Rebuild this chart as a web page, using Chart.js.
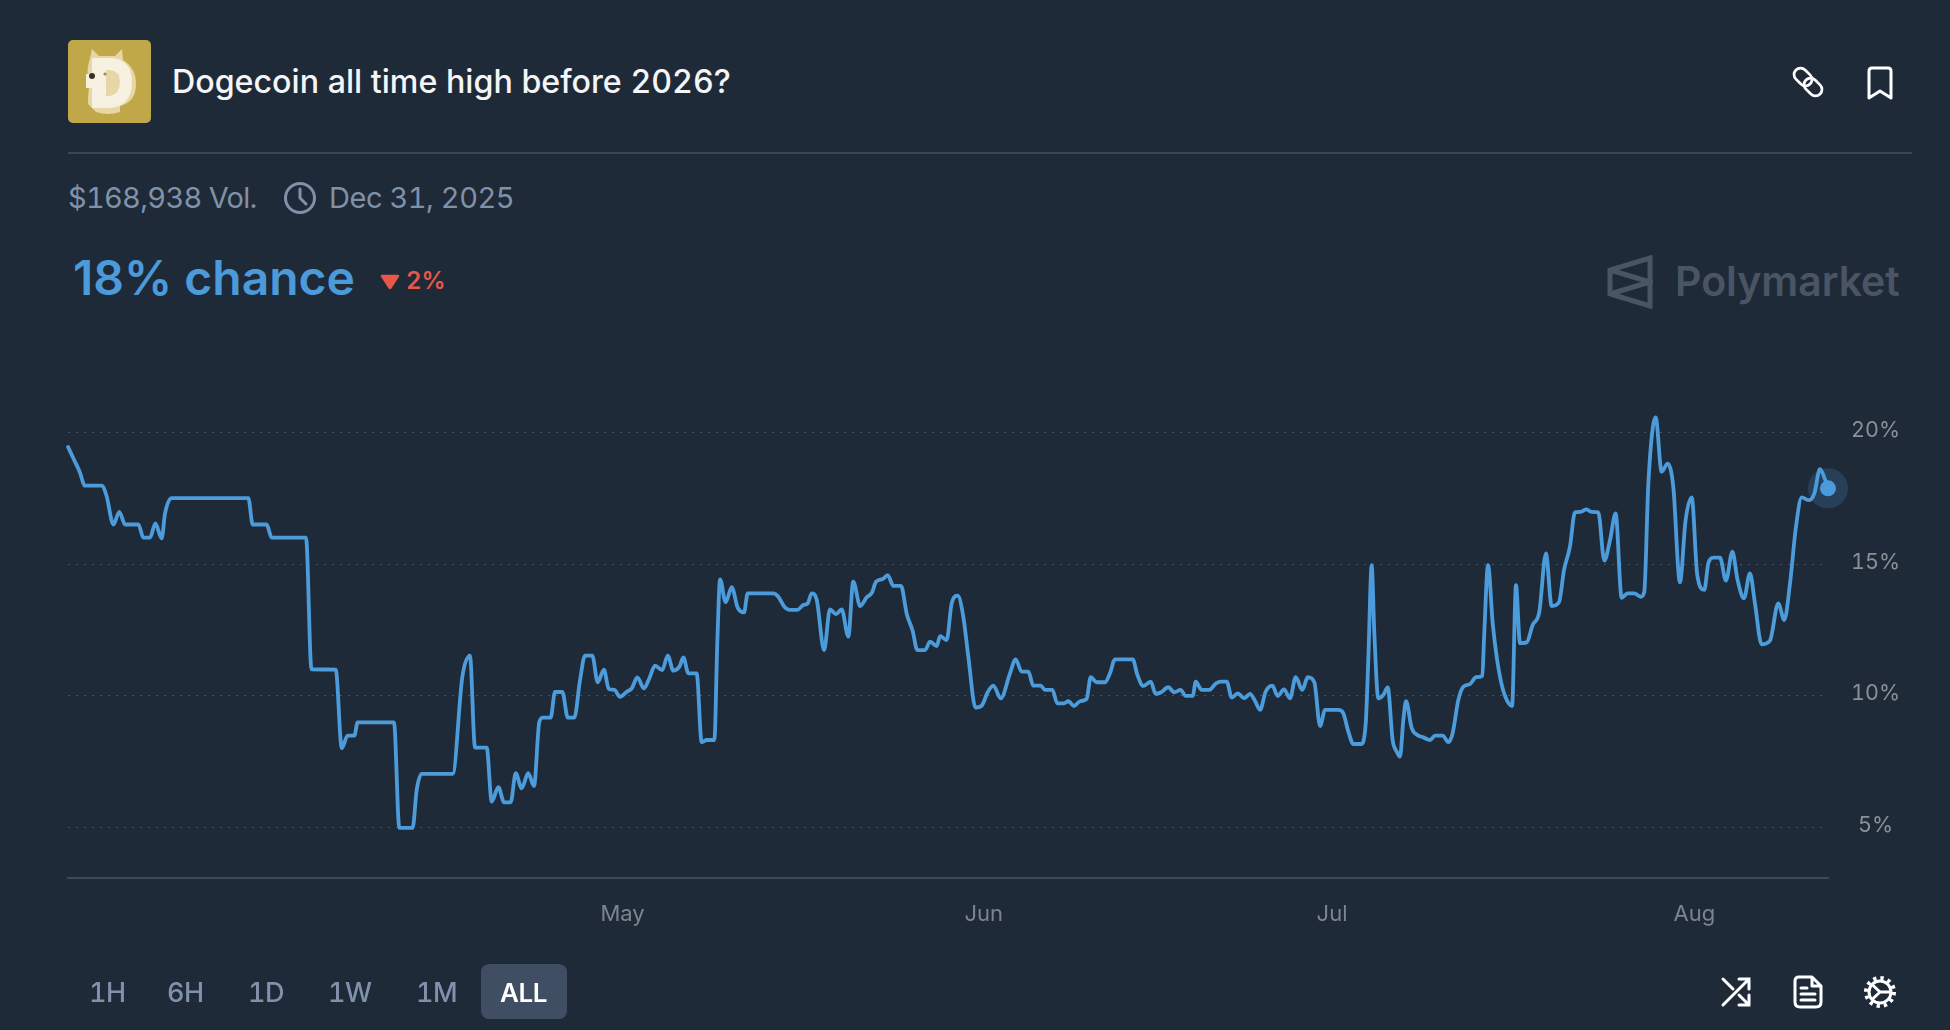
<!DOCTYPE html>
<html>
<head>
<meta charset="utf-8">
<title>Dogecoin all time high before 2026?</title>
<script src="https://cdn.jsdelivr.net/npm/chart.js@4"></script>
<style>
  html, body { margin: 0; padding: 0; background: #1f2a38; }
  body { width: 1950px; height: 1030px; position: relative; overflow: hidden; font-family: Inter, sans-serif; font-feature-settings: 'tnum'; }
  canvas { position: absolute; left: 0; top: 0; }
  .t { position: absolute; white-space: nowrap; line-height: 1; }
  svg { position: absolute; }
  .range { font-size: 27px; font-weight: 500; color: #8092ab; top: 979px; letter-spacing: -0.4px; }
</style>
</head>
<body>

<!-- header -->
<svg style="left:68px;top:40px" width="83" height="83" viewBox="0 0 83 83">
  <rect width="83" height="83" rx="5" fill="#c0a748"/>
  <path d="M22 18 L24 9 L31 16 H47 L54 9 L55 20 Q68 28 68 44 Q68 62 52 66 L52 72 Q40 76 28 72 L20 64 Q20 50 22 42 Q17 34 22 18 Z" fill="#e8d7a6"/>
  <path d="M24 18 H44 Q64 20 64 42 Q64 66 42 68 H24 V48 H18 V34 H24 Z M38 30 V56 H42 Q52 54 52 42 Q52 31 42 30 Z" fill="#f6f1e0"/>
  <circle cx="24" cy="36" r="3" fill="#3a3126"/>
  <circle cx="37" cy="34" r="1.6" fill="#9a8a60"/>
</svg>
<div class="t" style="left:172px;top:66px;font-size:32.200px;font-weight:500;color:#f4f5f6">Dogecoin all time high before 2026?</div>

<svg style="left:1790px;top:64px" width="36" height="36" viewBox="0 0 36 36" fill="none" stroke="#fff" stroke-width="2.700">
  <rect x="-10" y="-6.500" width="20" height="13" rx="6.500" transform="translate(13 13) rotate(45)"/>
  <rect x="-10" y="-6.500" width="20" height="13" rx="6.500" transform="translate(23 23) rotate(45)"/>
</svg>
<svg style="left:1866px;top:65px" width="28" height="36" viewBox="0 0 28 36" fill="none" stroke="#fff" stroke-width="3" stroke-linejoin="round">
  <path d="M3 6 Q3 3 6 3 H22 Q25 3 25 6 V33 L14 26 L3 33 Z"/>
</svg>

<div style="position:absolute;left:68px;top:152px;width:1844px;height:2px;background:#394656"></div>

<div class="t" style="left:68px;top:183px;font-size:29px;letter-spacing:-0.7px;color:#8091a8">$168,938 Vol.</div>
<svg style="left:283px;top:181px" width="34" height="34" viewBox="0 0 34 34" fill="none" stroke="#8091a8" stroke-width="3" stroke-linecap="round" stroke-linejoin="round">
  <circle cx="17" cy="17" r="14.500"/>
  <path d="M17 8 V17 L23 23"/>
</svg>
<div class="t" style="left:329px;top:183px;font-size:29px;letter-spacing:-0.45px;color:#8091a8">Dec 31, 2025</div>

<div class="t" style="left:73px;top:254px;font-size:48px;font-weight:600;font-feature-settings:normal;color:#4c9ad9">18% chance</div>
<svg style="left:380px;top:273px" width="20" height="18" viewBox="0 0 19 16">
  <path d="M2 1 H17 Q19 1 18 3 L11 14 Q9.500 16 8 14 L1 3 Q0 1 2 1 Z" fill="#e9574a"/>
</svg>
<div class="t" style="left:406px;top:269px;font-size:24px;font-weight:600;color:#e9574a">2%</div>

<svg style="left:1607px;top:255px" width="46" height="54" viewBox="0 0 46 54" fill="none" stroke="#4a5564" stroke-width="5">
  <path d="M43 3 V51 L3 39 V15 Z"/>
  <path d="M3 15 L43 27 L3 39"/>
</svg>
<div class="t" style="left:1675px;top:261px;font-size:41px;font-weight:600;color:#4a5564">Polymarket</div>

<!-- chart -->
<canvas id="lineChart" width="1950" height="1030"></canvas>

<!-- range buttons -->
<div style="position:absolute;left:481px;top:964px;width:86px;height:55px;border-radius:8px;background:#3f4e62"></div>
<div class="t range" style="left:89px">1H</div>
<div class="t range" style="left:167px">6H</div>
<div class="t range" style="left:248px">1D</div>
<div class="t range" style="left:328px">1W</div>
<div class="t range" style="left:416px">1M</div>
<div class="t range" style="left:500px;color:#fff;font-weight:600;font-size:26px;top:980px">ALL</div>

<svg style="left:1720px;top:976px" width="32" height="32" viewBox="0 0 32 32" fill="none" stroke="#fff" stroke-width="3" stroke-linecap="round">
  <path d="M3 29 L29 3 M19 3 H29 V13 M3 3 L13 13 M19 19 L29 29 M19 29 H29 V19"/>
</svg>
<svg style="left:1793px;top:975px" width="30" height="34" viewBox="0 0 30 34" fill="none" stroke="#fff" stroke-width="3" stroke-linecap="round" stroke-linejoin="round">
  <path d="M6 2 H19 L28 11 V27 Q28 32 23 32 H7 Q2 32 2 27 V6 Q2 2 6 2 Z M19 2 V11 H28"/>
  <path d="M8 13 H14 M8 19 H22 M8 25 H22"/>
</svg>
<svg style="left:1863px;top:975px" width="34" height="34" viewBox="0 0 34 34" fill="none" stroke="#fff">
  <circle cx="17" cy="17" r="11" stroke-width="3"/>
  <circle cx="17" cy="17" r="14" stroke-width="4" stroke-dasharray="3.300 4.030"/>
  <path d="M17 17 L9 9.500 M17 17 H28 M17 17 L9 24.500" stroke-width="3"/>
</svg>

<script>
// days since the start of the market (about Mar 14)
const days = [
  0, 0.6, 1, 1.46, 2.89, 3.3, 3.9, 4.4, 4.9, 6.04, 6.47, 7.04, 7.5, 8.04, 8.33, 8.9, 15.48, 15.85, 17.05, 17.48,
  20.43, 20.9, 22.98, 23.5, 24, 24.58, 24.86, 27.98, 28.44, 29.58, 29.93, 30.36, 33.02, 33.85, 34.5, 34.94, 35.94, 36.37, 36.94, 37.43,
  38, 38.43, 38.94, 39.5, 40, 40.46, 40.8, 41.43, 41.8, 42.43, 42.9, 43.46, 43.95, 44.38, 45, 45.47, 46, 46.41, 46.9, 47.38,
  47.96, 48.39, 48.87, 49.44, 49.9, 50.39, 51, 51.48, 51.96, 52.48, 52.82, 53.25, 53.96, 54.39, 54.82, 55.48, 55.74, 55.97, 56.45, 56.97,
  57.48, 58.03, 58.34, 60.55, 60.97, 61.49, 61.98, 62.6, 63.12, 63.49, 63.84, 64.27, 64.9, 65.4, 65.92, 66.41, 66.98, 67.4, 68, 68.56,
  69, 69.36, 69.93, 70.36, 70.85, 71.5, 72, 72.5, 72.9, 73.56, 74, 74.57, 74.85, 75.42, 75.85, 76.37, 76.85, 77.28, 77.9, 78.43,
  78.94, 79.43, 80.06, 80.86, 81.34, 81.86, 82.43, 82.86, 83.49, 83.86, 84.49, 84.92, 85.49, 85.87, 86.35, 86.87, 87.44, 87.78, 88.3, 89.01,
  89.44, 89.87, 91.39, 91.79, 92.3, 92.93, 93.36, 93.79, 94.45, 94.94, 95.5, 95.94, 96.54, 96.8, 97.31, 97.97, 98.54, 99.03, 99.46, 99.89,
  100.4, 100.97, 101.46, 101.89, 102.32, 102.8, 103.38, 103.83, 104.38, 104.89, 105.38, 105.95, 106.41, 106.98, 107.47, 107.9, 109.04, 109.47, 109.9, 110.33,
  110.99, 111.39, 111.62, 111.9, 112.13, 112.47, 112.9, 113.28, 113.7, 114.05, 114.33, 114.62, 114.85, 115.34, 115.82, 116.34, 116.91, 117.34, 118, 118.48,
  118.85, 119.34, 119.77, 120.34, 120.86, 121.4, 121.54, 121.89, 122.29, 122.63, 122.97, 123.35, 123.95, 124.29, 124.63, 125.2, 125.72, 126.29, 126.86, 127.35,
  127.98, 128.41, 128.92, 129.35, 129.84, 130.3, 130.78, 131.35, 131.87, 132.36, 132.84, 133.36, 133.87, 134.44, 134.99, 135.3, 135.65, 136.28, 136.79, 137.3,
  137.79, 138.36, 138.85, 139.37, 139.85, 140.45, 140.8, 141.22, 141.8, 142.31, 142.86, 143.31, 143.86, 144.37, 144.8, 145.37, 146.09, 146.8, 147.32, 147.81,
  148.32, 148.81, 149.44, 149.9, 150.38, 150.84, 151.07
];
// chance in percent, one value per entry of days
const chance = [
  19.44, 18.88, 18.5, 17.97, 17.97, 17.6, 16.5, 16.98, 16.5, 16.5, 16, 16, 16.54, 15.97, 16.92, 17.5, 17.5, 16.5, 16.5, 16,
  16, 11.01, 11, 8.02, 8.5, 8.5, 9, 9, 5, 5, 6.44, 7.05, 7.05, 10.73, 11.53, 8.04, 8.04, 6, 6.54, 5.97,
  5.97, 7.07, 6.5, 7.07, 6.59, 9.03, 9.18, 9.18, 10.15, 10.15, 9.18, 9.18, 10.6, 11.53, 11.53, 10.52, 11, 10.27, 10.23, 9.97,
  10.16, 10.29, 10.7, 10.29, 10.67, 11.15, 10.98, 11.53, 10.96, 11.11, 11.46, 10.86, 10.86, 8.25, 8.33, 8.33, 12.12, 14.42, 13.55, 14.12,
  13.35, 13.17, 13.89, 13.89, 13.76, 13.38, 13.26, 13.26, 13.45, 13.51, 13.89, 13.64, 11.74, 13.28, 13.1, 13.28, 12.25, 14.33, 13.41, 13.74,
  13.91, 14.33, 14.43, 14.58, 14.17, 14.17, 13.1, 12.47, 11.74, 11.74, 12.06, 11.89, 12.27, 12.12, 13.51, 13.8, 13, 11.49, 9.56, 9.63,
  10.14, 10.39, 9.91, 10.86, 11.39, 10.92, 10.92, 10.39, 10.39, 10.23, 10.23, 9.72, 9.72, 9.8, 9.62, 9.8, 9.89, 10.71, 10.52, 10.52,
  10.86, 11.39, 11.39, 10.8, 10.38, 10.54, 10.08, 10.13, 10.33, 10.14, 10.23, 10, 10, 10.54, 10.23, 10.23, 10.48, 10.54, 10.54, 9.94,
  10.1, 9.91, 10.08, 9.81, 9.47, 10.16, 10.39, 10, 10.25, 9.91, 10.71, 10.23, 10.71, 10.52, 8.86, 9.47, 9.47, 9.34, 8.65, 8.18,
  8.18, 8.96, 11.49, 14.96, 12.37, 9.91, 10.04, 10.32, 8.33, 7.89, 7.7, 9.09, 9.8, 8.78, 8.52, 8.43, 8.33, 8.5, 8.5, 8.25,
  8.59, 9.85, 10.35, 10.45, 10.71, 10.76, 12.12, 14.96, 12.75, 11.49, 10.61, 10, 9.62, 14.2, 12, 12.03, 12.69, 13.19, 15.4, 13.41,
  13.55, 14.77, 15.66, 16.96, 16.98, 17.07, 16.98, 16.96, 15.13, 15.91, 16.92, 13.72, 13.89, 13.89, 13.76, 13.95, 18.06, 20.56, 18.5, 18.81,
  17.93, 14.31, 16.67, 17.53, 14.58, 14.02, 15.03, 15.24, 15.24, 14.37, 15.47, 14.39, 13.7, 14.65, 13.51, 11.96, 12.1, 13.51, 12.88, 14.27,
  16.41, 17.53, 17.42, 17.68, 18.6, 18.18, 17.87
];

// month labels on the x axis
const monthLabels = ['May', 'Jun', 'Jul', 'Aug'];
const monthDays = [47.6, 78.6, 108.5, 139.6];
// tick values on the y axis
const percentTicks = [5, 10, 15, 20];

const lineColor = '#4c9cdc';

function renderChart() {
    const ctx = document.getElementById('lineChart').getContext('2d');
    const lastIndex = days.length - 1;

    new Chart(ctx, {
        type: 'line',
        data: {
            datasets: [
                {
                    // the dot at the latest value
                    data: [{ x: days[lastIndex], y: chance[lastIndex] }],
                    showLine: false,
                    pointRadius: 8,
                    pointBorderWidth: 24,
                    pointBackgroundColor: lineColor,
                    pointBorderColor: 'rgba(76, 156, 220, 0.2)',
                    order: 2,
                    clip: false
                },
                {
                    data: days.map((d, i) => ({ x: d, y: chance[i] })),
                    borderColor: lineColor,
                    borderWidth: 3.8,
                    pointRadius: 0,
                    cubicInterpolationMode: 'monotone',
                    borderJoinStyle: 'round',
                    borderCapStyle: 'round',
                    order: 1,
                    clip: false
                }
            ]
        },
        options: {
            responsive: false,
            animation: false,
            layout: { padding: { left: 68, right: 0, top: 353, bottom: 92 } },
            plugins: {
                legend: { display: false },
                tooltip: { enabled: false }
            },
            scales: {
                x: {
                    type: 'linear',
                    min: 0,
                    max: days[lastIndex],
                    afterBuildTicks: axis => { axis.ticks = monthDays.map(v => ({ value: v })); },
                    afterFit: axis => { axis.height = 60; },
                    grid: { display: false, drawTicks: false },
                    border: { display: true, color: '#3b4958', width: 2 },
                    ticks: {
                        autoSkip: false,
                        maxRotation: 0,
                        padding: 23,
                        color: '#7c858e',
                        font: { family: 'Inter', size: 22 },
                        callback: value => monthLabels[monthDays.indexOf(value)]
                    }
                },
                y: {
                    position: 'right',
                    min: 3.1,
                    max: 23,
                    afterBuildTicks: axis => { axis.ticks = percentTicks.map(v => ({ value: v })); },
                    afterFit: axis => { axis.width = 122; },
                    grid: { color: 'rgba(255, 255, 255, 0.2)', lineWidth: 1, drawTicks: false },
                    border: { display: false, dash: [2, 6] },
                    ticks: {
                        padding: 23,
                        crossAlign: 'center',
                        labelOffset: -2,
                        color: '#8b9096',
                        font: { family: 'Inter', size: 21.5 },
                        callback: value => value + '%'
                    }
                }
            }
        }
    });
}

renderChart();
</script>
</body>
</html>
